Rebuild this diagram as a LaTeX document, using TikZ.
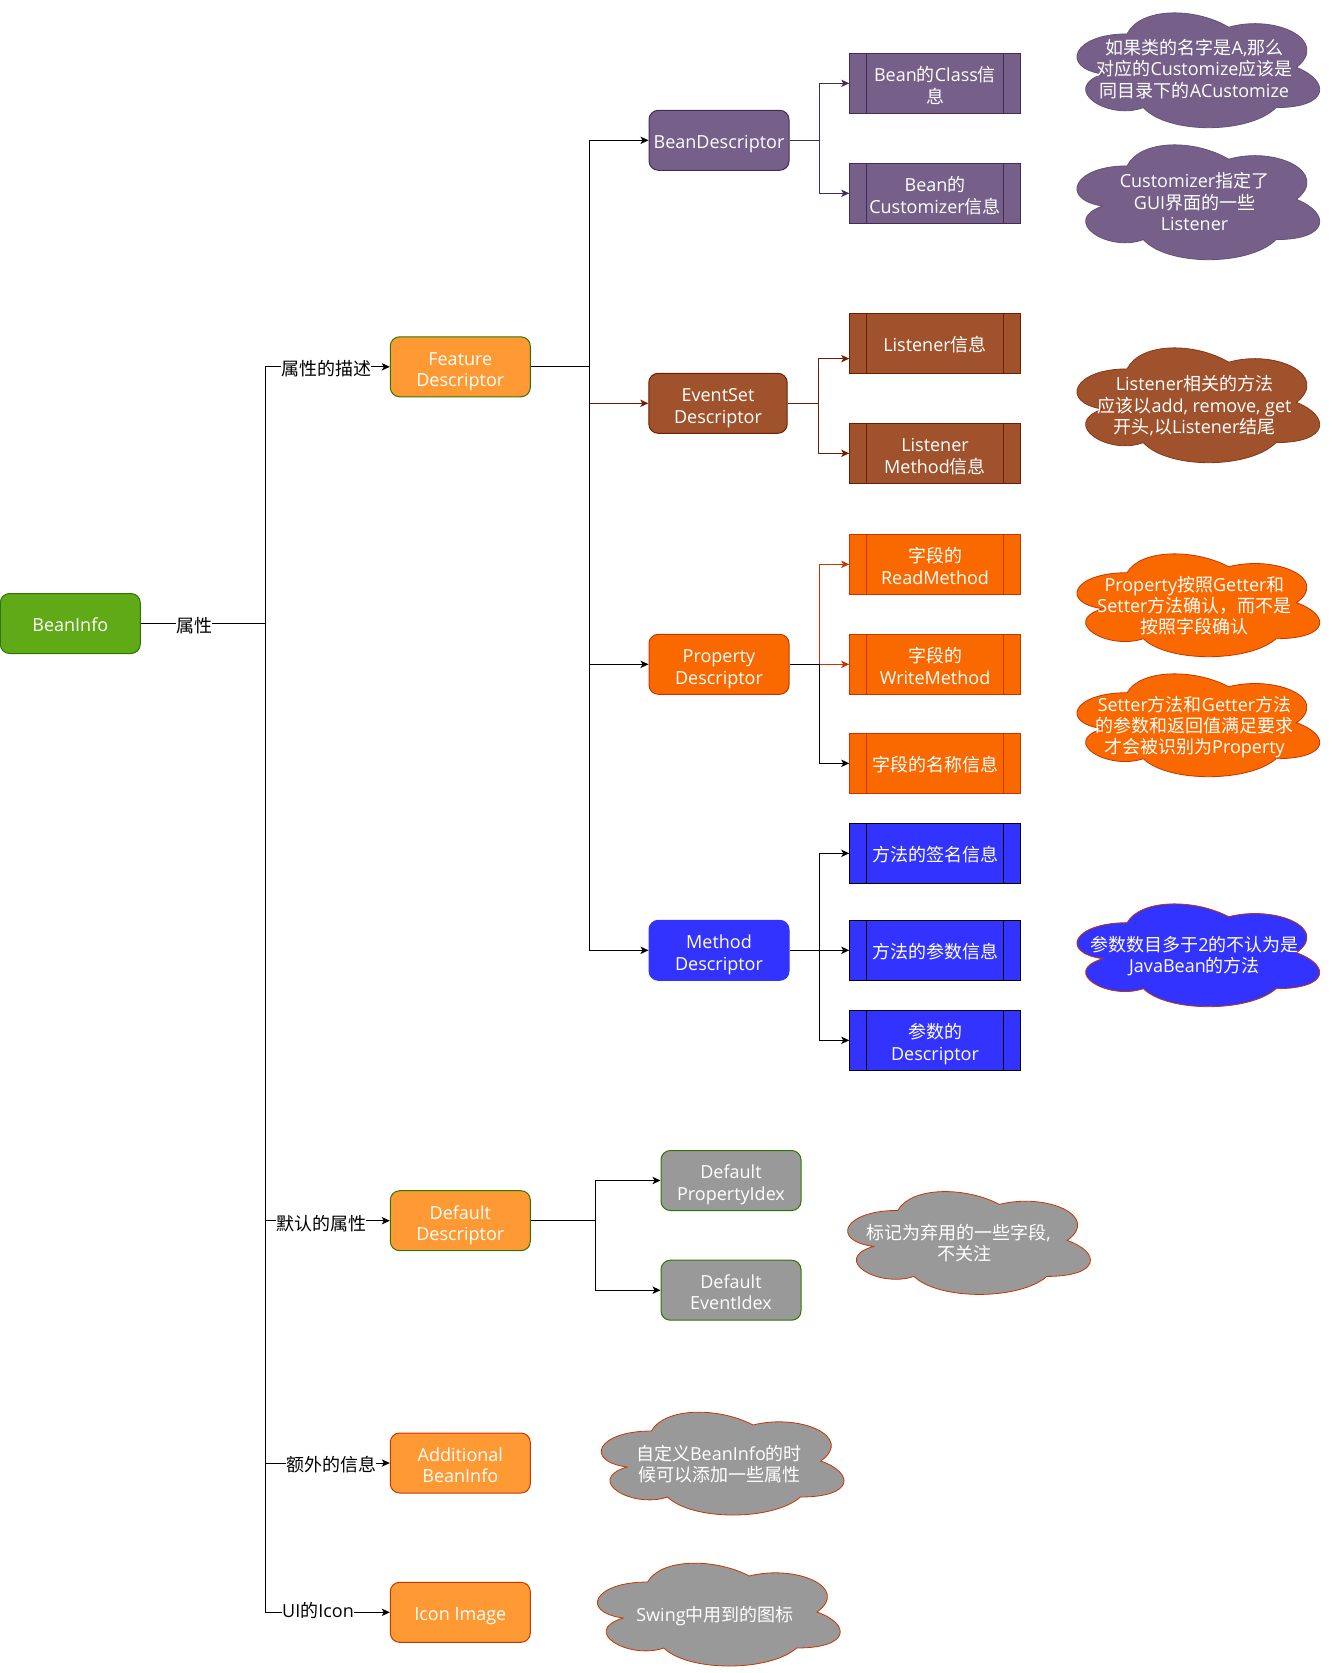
\documentclass[tikz,border=0pt]{standalone}
\usepackage{fontspec}
\setmainfont{Open Sans}
\newfontfamily\zhfont{Noto Sans CJK SC}
\newcommand{\zh}[1]{{\zhfont #1}}
\newcommand{\boxstrut}{\rule[-3.5pt]{0pt}{19.6pt}}
\usetikzlibrary{arrows.meta}
\definecolor{fgreen}{HTML}{60A917}
\definecolor{sgreen}{HTML}{2D7600}
\definecolor{fpurple}{HTML}{76608A}
\definecolor{spurple}{HTML}{432D57}
\definecolor{fbrown}{HTML}{A0522D}
\definecolor{sbrown}{HTML}{6D1F00}
\definecolor{forange}{HTML}{FA6800}
\definecolor{sorange}{HTML}{C73500}
\definecolor{fblue}{HTML}{3333FF}
\definecolor{flight}{HTML}{FF9933}
\definecolor{fgray}{HTML}{999999}
\tikzset{
  cloudtext/.style={text=white,align=center,inner sep=0pt,font=\fontsize{13.5}{16}\selectfont},
  boxtext/.style={cloudtext,execute at begin node={\boxstrut}},
  twolines/.style={execute at begin node={\rule{0pt}{33.1pt}}},
  rbox/.style 2 args={boxtext,rectangle,rounded corners=7pt,draw=#1,fill=#2,line width=.75pt,
    minimum width=105pt,minimum height=45pt},
  subbox/.style 2 args={boxtext,rectangle,draw=#1,fill=#2,line width=.75pt,
    minimum width=127.9pt,minimum height=45pt,
    path picture={
      \draw[draw=#1,line width=.75pt]
        ([xshift=12.9pt]path picture bounding box.north west) -- ([xshift=12.9pt]path picture bounding box.south west)
        ([xshift=-12.9pt]path picture bounding box.north east) -- ([xshift=-12.9pt]path picture bounding box.south east);
    }},
  conn/.style={draw=#1,line width=.75pt,-{Stealth[length=6pt,width=5.5pt,inset=1.5pt]}},
  conn/.default=black,
  edgelabel/.style={fill=white,inner sep=0pt,text=black,font=\fontsize{13.5}{16}\selectfont\zhfont},
}
% cloud outline of the diagram editor: x0, y0, w, h, fill, stroke
\newcommand{\cloudblob}[6]{
  \begin{scope}[shift={(#1,#2)},x=#3*0.75pt,y=-#4*0.75pt]
    \draw[fill=#5,draw=#6,line width=.6pt]
      (.25,.25) .. controls (.05,.25) and (0,.5) .. (.16,.55)
      .. controls (0,.66) and (.18,.9) .. (.31,.8)
      .. controls (.4,1) and (.7,1) .. (.8,.8)
      .. controls (1,.8) and (1,.6) .. (.875,.5)
      .. controls (1,.3) and (.8,.1) .. (.625,.2)
      .. controls (.5,.05) and (.3,.05) .. (.25,.25) -- cycle;
  \end{scope}
}
\begin{document}
\begin{tikzpicture}[x=0.75pt,y=-0.75pt]
\useasboundingbox (0,0) rectangle (1331,1673);

% clouds
\cloudblob{1059.3}{0.4}{271}{134}{fpurple}{fpurple!85!black}
\cloudblob{1059.3}{132.4}{271}{134}{fpurple}{fpurple!85!black}
\cloudblob{1059.3}{335.4}{271}{134}{fbrown}{sbrown!50!fbrown}
\cloudblob{1059.3}{542.7}{271}{120}{forange}{sorange}
\cloudblob{1059.3}{662.7}{271}{120}{forange}{sorange}
\cloudblob{1059.3}{892.7}{271}{120}{fblue}{sorange}
\cloudblob{830}{1180.4}{271}{120}{fgray}{sorange}
\cloudblob{583.6}{1401}{271}{120}{fgray}{sorange}
\cloudblob{579.8}{1552}{271}{120}{fgray}{sorange}

\node[cloudtext] (n1) at (1194.5,69) {\zh{如果类的名字是}A,\zh{那么}\\\zh{对应的}Customize\zh{应该是}\\\zh{同目录下的}ACustomize};
\node[cloudtext] (n2) at (1194.5,201.7) {Customizer\zh{指定了}\\GUI\zh{界面的一些}\\Listener};
\node[cloudtext] (n3) at (1194.5,405.7) {Listener\zh{相关的方法}\\\zh{应该以}add, remove, get\\\zh{开头},\zh{以}Listener\zh{结尾}};
\node[cloudtext] (n4) at (1194.5,605.7) {Property\zh{按照}Getter\zh{和}\\Setter\zh{方法确认，而不是}\\\zh{按照字段确认}};
\node[cloudtext] (n5) at (1194.5,727) {Setter\zh{方法和}Getter\zh{方法}\\\zh{的参数和返回值满足要求}\\\zh{才会被识别为}Property};
\node[cloudtext] (n6) at (1194.5,956) {\zh{参数数目多于}2\zh{的不认为是}\\JavaBean\zh{的方法}};
\node[cloudtext] (n7) at (964,1243) {\zh{标记为弃用的一些字段},\hspace*{8pt}\\\zh{不关注}};
\node[cloudtext] (n8) at (719,1464) {\zh{自定义}BeanInfo\zh{的时}\\\zh{候可以添加一些属性}};
\node[cloudtext] (n9) at (715,1616) {Swing\zh{中用到的图标}};

% main nodes
\node[rbox={sgreen}{fgreen}] (bi) at (70.3,623.5) {BeanInfo};
\node[rbox={sgreen}{flight},twolines] (fd) at (460.3,366.8) {Feature\\Descriptor};
\node[rbox={sgreen}{flight},twolines] (dd) at (460.3,1220.7) {Default\\Descriptor};
\node[rbox={sorange}{flight},twolines] (ab) at (460.3,1463) {Additional\\BeanInfo};
\node[rbox={sorange}{flight}] (ic) at (460.3,1612.3) {Icon Image};

\node[rbox={spurple}{fpurple}] (bd) at (719,140.3) {BeanDescriptor};
\node[rbox={sbrown}{fbrown},minimum width=103.8pt,twolines] (ed) at (718,403.3) {EventSet\\Descriptor};
\node[rbox={sorange}{forange},twolines] (pd) at (719,664.3) {Property\\Descriptor};
\node[rbox={fblue}{fblue},twolines] (md) at (719,950.3) {Method\\Descriptor};

\node[subbox={spurple}{fpurple},twolines] (b1) at (935,83.3) {Bean\zh{的}Class\zh{信}\\\zh{息}};
\node[subbox={spurple}{fpurple},twolines] (b2) at (935,193.3) {Bean\zh{的}\\Customizer\zh{信息}};
\node[subbox={sbrown}{fbrown}] (e1) at (935,343.3) {Listener\zh{信息}};
\node[subbox={sbrown}{fbrown},twolines] (e2) at (935,453.3) {Listener\\Method\zh{信息}};
\node[subbox={sorange}{forange},twolines] (p1) at (935,564.3) {\zh{字段的}\\ReadMethod};
\node[subbox={sorange}{forange},twolines] (p2) at (935,664.3) {\zh{字段的}\\WriteMethod};
\node[subbox={sorange}{forange}] (p3) at (935,763.3) {\zh{字段的名称信息}};
\node[subbox={black}{fblue}] (m1) at (935,853.3) {\zh{方法的签名信息}};
\node[subbox={black}{fblue}] (m2) at (935,950.3) {\zh{方法的参数信息}};
\node[subbox={black}{fblue},twolines] (m3) at (935,1040.3) {\zh{参数的}\\Descriptor};

\node[rbox={sgreen}{fgray},twolines] (d1) at (731,1180.5) {Default\\PropertyIdex};
\node[rbox={sgreen}{fgray},twolines] (d2) at (731,1290.2) {Default\\EventIdex};

% routing points
\coordinate (tr0) at (265.5,623.5);
\coordinate (tr1) at (589.5,366.8);
\coordinate (tr2) at (595.5,1220.7);
\coordinate (brb) at (819.5,140.3);
\coordinate (bre) at (818.5,403.3);
\coordinate (brp) at (819.5,664.3);
\coordinate (brm) at (819.5,950.3);

% connectors
\draw[conn] (bi.east) -| (tr0) |- (fd.west);
\draw[conn] (bi.east) -| (tr0) |- (dd.west);
\draw[conn] (bi.east) -| (tr0) |- (ab.west);
\draw[conn] (bi.east) -| (tr0) |- (ic.west);

\draw[conn=sbrown] (fd.east) -| (tr1) |- (ed.west);
\draw[conn] (fd.east) -| (tr1) |- (bd.west);
\draw[conn] (fd.east) -| (tr1) |- (pd.west);
\draw[conn] (fd.east) -| (tr1) |- (md.west);

\draw[conn=spurple] (bd.east) -| (brb) |- (b1.west);
\draw[conn=spurple] (bd.east) -| (brb) |- (b2.west);
\draw[conn=sbrown] (ed.east) -| (bre) |- ([yshift=-11.5pt]e1.west);
\draw[conn=sbrown] (ed.east) -| (bre) |- (e2.west);
\draw[conn=sorange] (pd.east) -| (brp) |- (p1.west);
\draw[conn=sorange] (pd.east) -| (brp) |- (p2.west);
\draw[conn] (pd.east) -| (brp) |- (p3.west);
\draw[conn] (md.east) -| (brm) |- (m1.west);
\draw[conn] (md.east) -| (brm) |- (m2.west);
\draw[conn] (md.east) -| (brm) |- (m3.west);
\draw[conn] (dd.east) -| (tr2) |- (d1.west);
\draw[conn] (dd.east) -| (tr2) |- (d2.west);

% connector labels
\node[edgelabel] (l0) at (194,626) {属性};
\node[edgelabel] (l1) at (326,369) {属性的描述};
\node[edgelabel] (l2) at (321,1224) {默认的属性};
\node[edgelabel] (l3) at (331,1465) {额外的信息};
\node[edgelabel] (l4) at (318,1610.5) {\normalfont UI\zhfont 的\normalfont Icon};
\end{tikzpicture}
\end{document}
